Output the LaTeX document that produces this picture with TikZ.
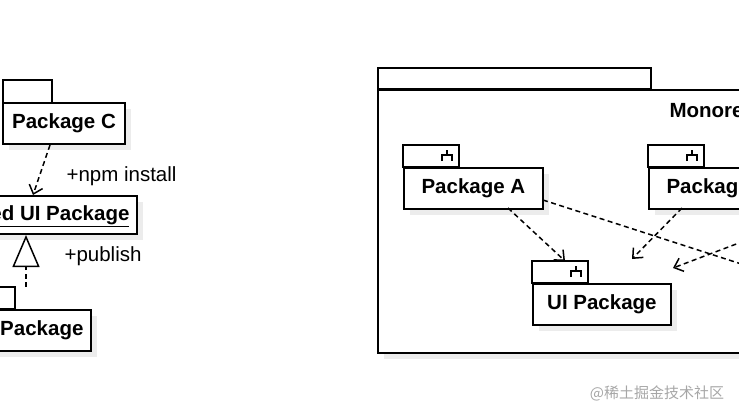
\documentclass[tikz,border=0pt]{standalone}
\usepackage{fontspec}
\setmainfont{Liberation Sans}
\newfontfamily\cjk{Noto Sans CJK SC}
\usetikzlibrary{arrows.meta,shadows,calc}
\tikzset{
  pkg/.style={draw, line width=1.8pt, fill=white, font=\bfseries\fontsize{20.5}{24}\selectfont,
    drop shadow={shadow xshift=6pt, shadow yshift=-6pt, fill=gray!15, opacity=1}},
  tab/.style={draw, line width=1.8pt, fill=white},
  dep/.style={dash pattern=on 5pt off 3.5pt, line width=1.5pt, -{Straight Barb[length=8pt,width=14pt]}},
  real/.style={dash pattern=on 5pt off 3.5pt, line width=1.5pt, -{Triangle[open,length=32pt,width=27pt]}},
  lbl/.style={font=\fontsize{20.5}{24}\selectfont, anchor=west},
  ttl/.style={font=\bfseries\fontsize{20.5}{24}\selectfont},
}
\def\fork#1{\draw[line width=1.3pt] ($(#1)+(0,-5)$) -- ($(#1)$) (#1) ++(-5,6) -- ++(0,-6) -- ++(10,0) -- ++(0,6);}
\begin{document}
\begin{tikzpicture}[x=1pt,y=-1pt]
\useasboundingbox (0,0) rectangle (739,416);
\clip (0,0) rectangle (739,416);
% left side
\draw[tab] (3,80) rectangle (52,103);
\node[pkg, minimum width=122, minimum height=41] (pkgC) at (64,123.5) {Package C};
\node[pkg, minimum width=240, minimum height=38, anchor=east] (shared) at (138,215) {};
\node[ttl, anchor=east] (sharedT) at (133,216) {\underline{Shared UI Package}};
\draw[tab] (-40,287) rectangle (15,309);
\node[pkg, minimum width=150, minimum height=41, anchor=north east] (pkgB) at (92,309) {};
\node[ttl, anchor=east] (pkgBT) at (87,330) {UI Package};
\coordinate (cEnd) at (33,195);
\draw[dep] (50,145) -- (cEnd);
\coordinate (pubTop) at (26,235);
\draw[real] (26,287) -- (pubTop);
\node[lbl] (npm) at (63,176) {+npm install};
\node[lbl] (pub) at (61,256) {+publish};
% monorepo
\draw[tab] (378,68) rectangle (651,89);
\node[pkg, minimum width=420, minimum height=263, anchor=north west] (mono) at (377,89) {};
\node[ttl, anchor=west] (monoT) at (666,113) {Monorepo};
\draw[tab] (403,145) rectangle (459,167);
\node[pkg, minimum width=139, minimum height=41, anchor=north west] (pkgA) at (403,167) {Package A};
\fork{447,155}
\draw[tab] (648,145) rectangle (704,167);
\node[pkg, minimum width=139, minimum height=41, anchor=north west] (pkgBB) at (648,167) {Package B};
\fork{692,155}
\draw[tab] (532,261) rectangle (588,283);
\node[pkg, minimum width=138, minimum height=41, anchor=north west] (ui) at (532,283) {UI Package};
\fork{576,271}
\coordinate (uiA) at (565,261);
\coordinate (uiB) at (632,259);
\coordinate (uiC) at (673,268);
\coordinate (offR) at (760,270);
\coordinate (offS) at (760,235);
\draw[dep] (508,208) -- (uiA);
\draw[dep] (682,208) -- (uiB);
\draw[dep] (543,200) -- (offR);
\draw[dep] (offS) -- (uiC);
\node[text=gray!70, font=\cjk\fontsize{15}{18}\selectfont] (wm) at (657,393) {@稀土掘金技术社区};
\end{tikzpicture}
\end{document}
